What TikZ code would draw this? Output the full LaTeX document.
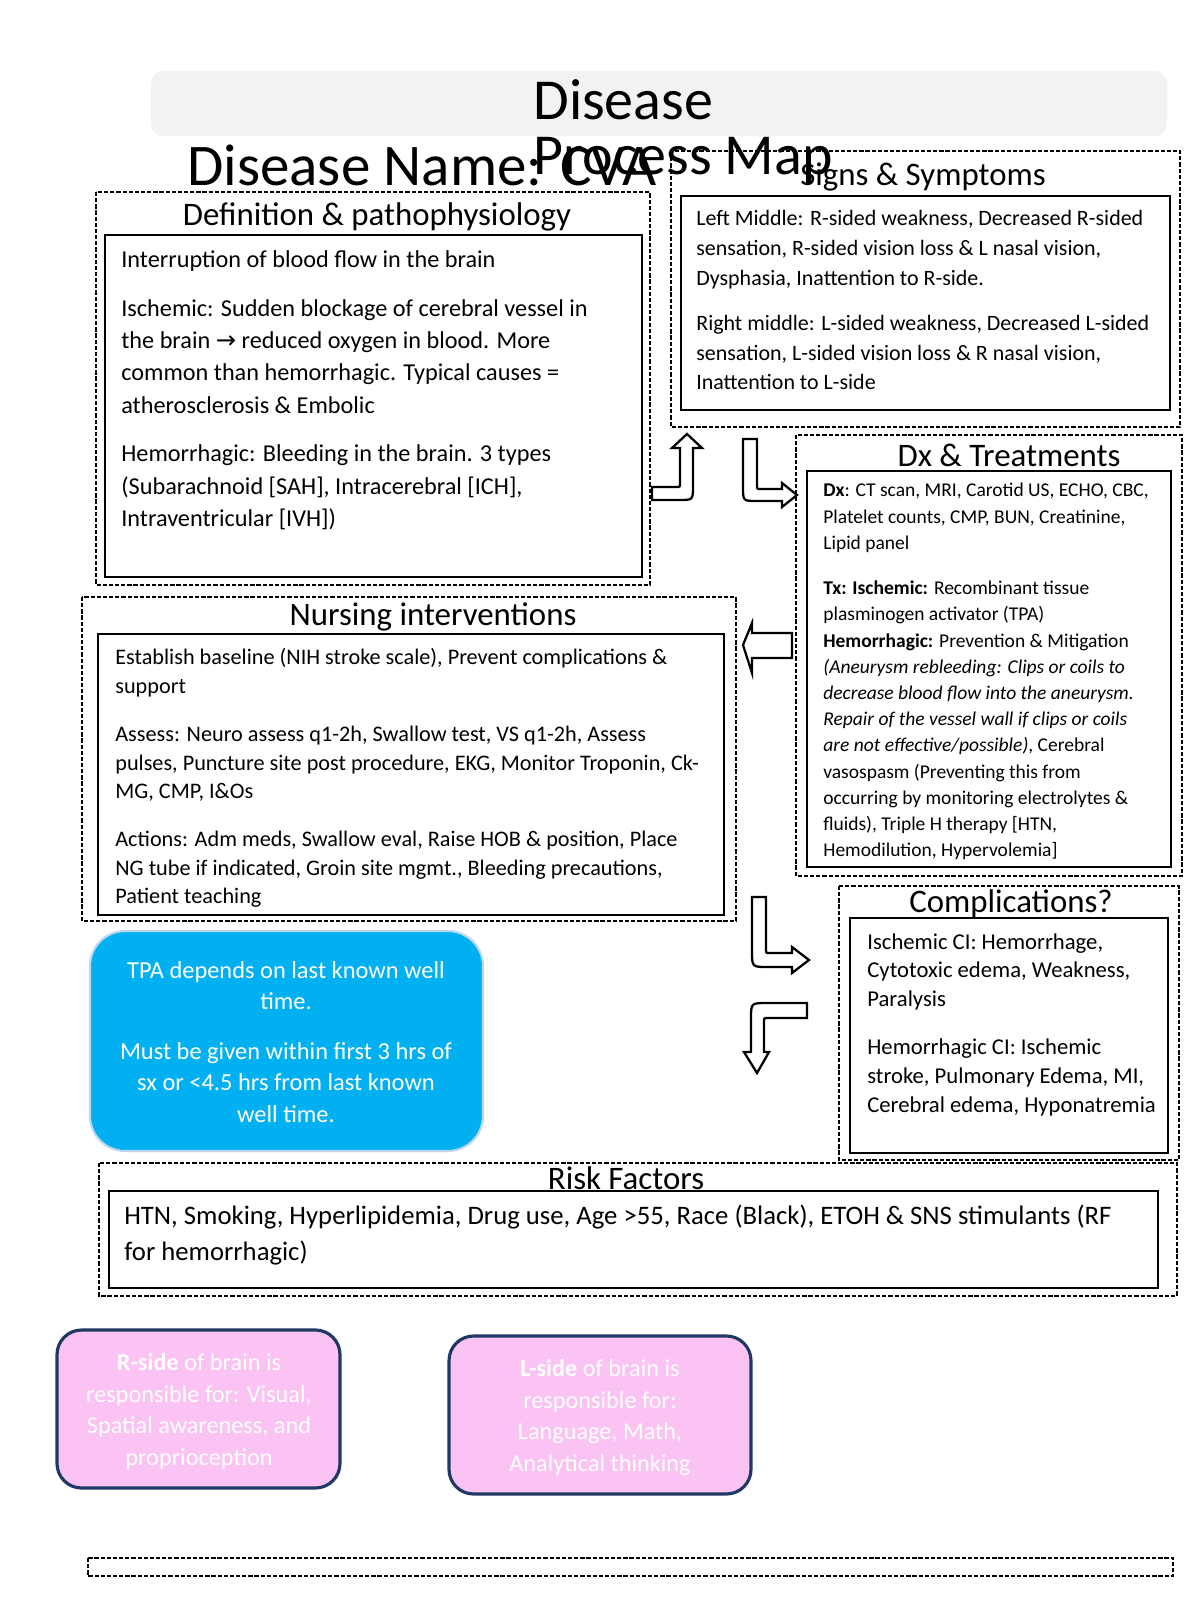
\documentclass[tikz,border=0pt]{standalone}
\usepackage{fontspec}
\setmainfont{Carlito}
\newfontfamily\arrowfont{DejaVu Sans}
\usetikzlibrary{positioning}

\definecolor{titlegray}{HTML}{F2F2F2}
\definecolor{tpablue}{HTML}{00B0F0}
\definecolor{tpaedge}{HTML}{BDD7EE}
\definecolor{brainpink}{HTML}{FBC3F3}
\definecolor{brainedge}{HTML}{1F3864}

\tikzset{
  dashbox/.style={line width=1.4pt, dash pattern=on 2.4pt off 1.1pt},
  solidbox/.style={line width=0.9pt},
  boxhead/.style={font=\fontsize{18.7}{20}\selectfont, inner sep=0pt},
  boxtext/.style={anchor=north west, align=left, inner sep=0pt},
  notetext/.style={anchor=north, align=center, inner sep=0pt, text=white},
  blockarrow/.style={line width=1.3pt, fill=white, line join=miter},
}

\begin{document}
\begin{tikzpicture}[x=0.02cm, y=-0.02cm]
\useasboundingbox (0,0) rectangle (1200,1600);
\fill[white] (0,0) rectangle (1200,1600);

% ========== title ==========
\fill[titlegray, rounded corners=7pt] (151,71) rectangle (1167,136);
\node[anchor=base west, inner sep=0pt, font=\fontsize{33}{36}\selectfont] (maptitle) at (533,119) {Disease};
\node[anchor=base west, inner sep=0pt, font=\fontsize{33}{36}\selectfont] (maptitle2) at (533,174) {Process Map};
\node[anchor=base west, inner sep=0pt, font=\fontsize{33.6}{36}\selectfont] (disname) at (187,185) {Disease Name: CVA};

% ========== definition ==========
\draw[dashbox] (96,192) rectangle (650,585);
\draw[solidbox] (105,235) rectangle (642,577);
\node[boxhead] (defhead) at (377,217) {Definition \& pathophysiology};
\node[boxtext, font=\fontsize{13.8}{18.4}\selectfont] (deftext) at (121,250) {Interruption of blood flow in the brain\\[9.4pt]
Ischemic: Sudden blockage of cerebral vessel in\\
the brain {\arrowfont →} reduced oxygen in blood. More\\
common than hemorrhagic. Typical causes =\\
atherosclerosis \& Embolic\\[9.4pt]
Hemorrhagic: Bleeding in the brain. 3 types\\
(Subarachnoid [SAH], Intracerebral [ICH],\\
Intraventricular [IVH])};

% ========== signs & symptoms ==========
\draw[dashbox] (671,151) rectangle (1180,427);
\draw[solidbox] (681,196) rectangle (1170,410);
\node[boxhead] (signhead) at (923,177) {Signs \& Symptoms};
\node[boxtext, font=\fontsize{12.5}{17}\selectfont] (signtext) at (696,210) {Left Middle: R-sided weakness, Decreased R-sided\\
sensation, R-sided vision loss \& L nasal vision,\\
Dysphasia, Inattention to R-side.\\[8.5pt]
Right middle: L-sided weakness, Decreased L-sided\\
sensation, L-sided vision loss \& R nasal vision,\\
Inattention to L-side};

% ========== dx & treatments ==========
\draw[dashbox] (796,435) rectangle (1182,876);
\draw[solidbox] (807,471) rectangle (1171,867);
\node[boxhead] (dxhead) at (1009,455) {Dx \& Treatments};
\node[boxtext, font=\fontsize{11.1}{14.9}\selectfont] (dxtext) at (823,483) {\textbf{Dx}: CT scan, MRI, Carotid US, ECHO, CBC,\\
Platelet counts, CMP, BUN, Creatinine,\\
Lipid panel\\[11pt]
\textbf{Tx: Ischemic:} Recombinant tissue\\
plasminogen activator (TPA)\\
\textbf{Hemorrhagic:} Prevention \& Mitigation\\
\textit{(Aneurysm rebleeding: Clips or coils to}\\
\textit{decrease blood flow into the aneurysm.}\\
\textit{Repair of the vessel wall if clips or coils}\\
\textit{are not effective/possible)}, Cerebral\\
vasospasm (Preventing this from\\
occurring by monitoring electrolytes \&\\
fluids), Triple H therapy [HTN,\\
Hemodilution, Hypervolemia]};

% ========== nursing interventions ==========
\draw[dashbox] (82,597) rectangle (736,921);
\draw[solidbox] (98,634) rectangle (724,915);
\node[boxhead] (nurshead) at (433,617) {Nursing interventions};
\node[boxtext, font=\fontsize{12.65}{16.2}\selectfont] (nurstext) at (115,648) {Establish baseline (NIH stroke scale), Prevent complications \&\\
support\\[11.4pt]
Assess: Neuro assess q1-2h, Swallow test, VS q1-2h, Assess\\
pulses, Puncture site post procedure, EKG, Monitor Troponin, Ck-\\
MG, CMP, I\&Os\\[11.4pt]
Actions: Adm meds, Swallow eval, Raise HOB \& position, Place\\
NG tube if indicated, Groin site mgmt., Bleeding precautions,\\
Patient teaching};

% ========== complications ==========
\draw[dashbox] (839,886) rectangle (1179,1160);
\draw[solidbox] (850,918) rectangle (1168,1153);
\node[boxhead] (comphead) at (1011,904) {Complications?};
\node[boxtext, font=\fontsize{12.9}{16.4}\selectfont] (comptext) at (867,933) {Ischemic CI: Hemorrhage,\\
Cytotoxic edema, Weakness,\\
Paralysis\\[10.8pt]
Hemorrhagic CI: Ischemic\\
stroke, Pulmonary Edema, MI,\\
Cerebral edema, Hyponatremia};

% ========== TPA note ==========
\draw[tpaedge, line width=1.2pt, fill=tpablue, rounded corners=20pt] (90,931) rectangle (483,1151);
\node[notetext, font=\fontsize{13.9}{18}\selectfont] (tpanote) at (286,961) {TPA depends on last known well\\
time.\\[10pt]
Must be given within first 3 hrs of\\
sx or <4.5 hrs from last known\\
well time.};

% ========== risk factors ==========
\draw[dashbox] (99,1163) rectangle (1177,1296);
\draw[solidbox] (109,1191) rectangle (1158,1288);
\node[boxhead] (riskhead) at (626,1178) {Risk Factors};
\node[boxtext, font=\fontsize{15.2}{20.4}\selectfont] (risktext) at (124,1205) {HTN, Smoking, Hyperlipidemia, Drug use, Age >55, Race (Black), ETOH \& SNS stimulants (RF\\
for hemorrhagic)};

% ========== brain sides ==========
\draw[brainedge, line width=1.8pt, fill=brainpink, rounded corners=14pt] (57,1330) rectangle (340,1488);
\node[notetext, font=\fontsize{13.8}{18}\selectfont] (rside) at (199,1353) {\textbf{R-side} of brain is\\
responsible for: Visual,\\
Spatial awareness, and\\
proprioception};
\draw[brainedge, line width=1.8pt, fill=brainpink, rounded corners=14pt] (449,1336) rectangle (751,1494);
\node[notetext, font=\fontsize{13.8}{18}\selectfont] (lside) at (600,1359) {\textbf{L-side} of brain is\\
responsible for:\\
Language, Math,\\
Analytical thinking};

% empty box at the foot
\draw[dashbox] (88,1558) rectangle (1173,1576);

% ========== block arrows ==========
% definition -> signs
\draw[blockarrow] (652,487) -- (676,487) .. controls (680,487) .. (680,483) -- (680,448)
  -- (672,448) -- (687,434) -- (702,448) -- (693,448) -- (693,486)
  .. controls (693,500) .. (679,500) -- (652,500) -- cycle;
% signs -> dx
\draw[blockarrow] (743,439) -- (757,439) -- (757,485) .. controls (757,489) .. (761,489)
  -- (782,489) -- (782,483) -- (797,495) -- (782,507) -- (782,501) -- (757,501)
  .. controls (743,501) .. (743,487) -- cycle;
% dx -> nursing
\draw[blockarrow] (792,633) -- (752,633) -- (752,623) -- (743,645) -- (752,673)
  -- (752,658) -- (792,658) -- cycle;
% nursing -> complications
\draw[blockarrow] (752,897) -- (766,897) -- (766,949) .. controls (766,953) .. (770,953)
  -- (792,953) -- (792,947) -- (809,960) -- (792,973) -- (792,967) -- (768,967)
  .. controls (752,967) .. (752,951) -- cycle;
% complications -> back
\draw[blockarrow] (807,1003) -- (807,1018) -- (768,1018) .. controls (764,1018) .. (764,1022)
  -- (764,1052) -- (769,1052) -- (757,1073) -- (744,1052) -- (751,1052) -- (751,1019)
  .. controls (751,1003) .. (767,1003) -- cycle;

\end{tikzpicture}
\end{document}
